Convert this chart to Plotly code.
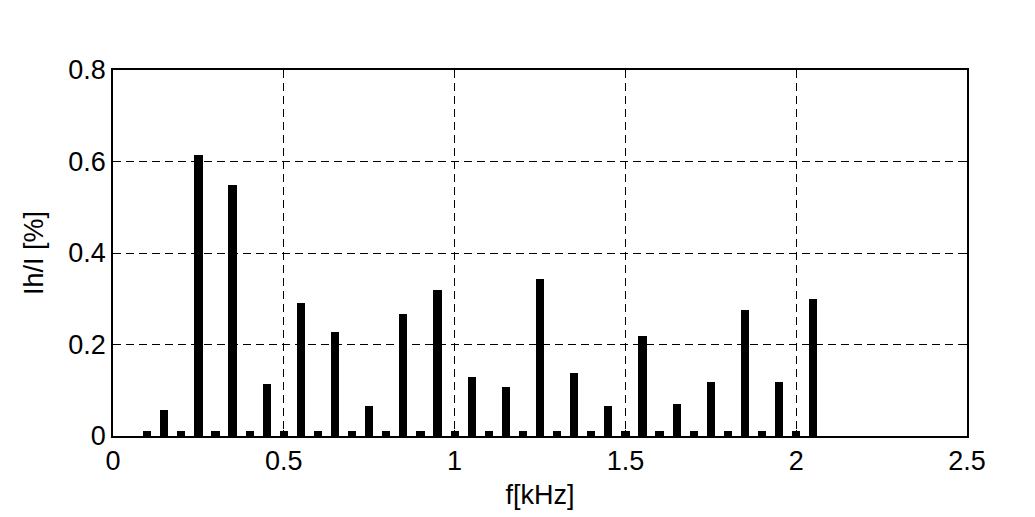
import plotly.graph_objects as go

# harmonic frequencies in kHz (odd and even multiples of 50 Hz)
odd_f = [0.15, 0.25, 0.35, 0.45, 0.55, 0.65, 0.75, 0.85, 0.95, 1.05,
         1.15, 1.25, 1.35, 1.45, 1.55, 1.65, 1.75, 1.85, 1.95, 2.05]
odd_h = [0.056, 0.614, 0.549, 0.113, 0.290, 0.227, 0.065, 0.267, 0.319, 0.128,
         0.107, 0.343, 0.137, 0.065, 0.219, 0.069, 0.117, 0.275, 0.117, 0.299]
even_f = [0.1, 0.2, 0.3, 0.4, 0.5, 0.6, 0.7, 0.8, 0.9, 1.0,
          1.1, 1.2, 1.3, 1.4, 1.5, 1.6, 1.7, 1.8, 1.9, 2.0]
even_h = [0.012] * 20

x_ticks = [0, 0.5, 1, 1.5, 2, 2.5]
y_ticks = [0, 0.2, 0.4, 0.6, 0.8]

fig = go.Figure()
fig.add_trace(go.Bar(x=odd_f + even_f, y=odd_h + even_h, width=0.024,
                     marker=dict(color="black", line=dict(width=0))))

font = dict(family="Liberation Sans Narrow, Liberation Sans, Arial", size=27, color="black")
axis_common = dict(showline=True, linecolor="black", linewidth=1.5, mirror="allticks",
                   ticks="inside", ticklen=6, tickcolor="black",
                   showgrid=True, gridcolor="black", gridwidth=1.3, griddash="8px,5px",
                   zeroline=False, tickfont=font)

fig.update_xaxes(range=[0, 2.5], tickvals=x_ticks, ticktext=["0", "0.5", "1", "1.5", "2", "2.5"],
                 title=dict(text="f[kHz]", font=font, standoff=10), **axis_common)
fig.update_yaxes(range=[0, 0.8], tickvals=y_ticks, ticktext=["0", "0.2", "0.4", "0.6", "0.8"],
                 title=dict(text="Ih/I [%]", font=font, standoff=17), **axis_common)

# the page body adds an 8px offset, so margins are shifted to compensate
fig.update_layout(width=1035, height=517, margin=dict(l=105, r=76, t=62, b=89),
                  plot_bgcolor="white", paper_bgcolor="white", showlegend=False, bargap=0)

fig.write_html("out.html")
